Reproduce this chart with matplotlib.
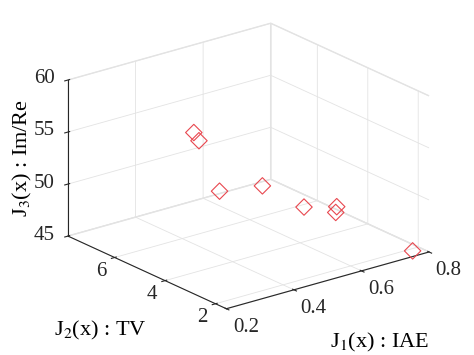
import matplotlib
matplotlib.use("Agg")
import matplotlib.pyplot as plt

plt.rcParams['font.family'] = ['Liberation Serif', 'DejaVu Serif']
plt.rcParams['mathtext.fontset'] = 'stix'
plt.rcParams['grid.color'] = '#e3e3e3'
plt.rcParams['grid.linewidth'] = 0.6

# puntos del frente de Pareto
iae = [0.35, 0.36, 0.40, 0.45, 0.55, 0.62, 0.62, 0.77]
tv = [4.87, 4.80, 4.52, 3.49, 3.18, 2.82, 2.86, 1.82]
imre = [56.9, 56.1, 51.2, 52.4, 49.8, 49.6, 49.0, 45.1]

xticks = [0.2, 0.4, 0.6, 0.8]
yticks = [2, 4, 6]
zticks = [45, 50, 55, 60]

fig = plt.figure(figsize=(4.74, 3.55), dpi=100)
ax = fig.add_axes([0.09, 0.06, 0.85, 0.92], projection='3d', proj_type='ortho')
ax.view_init(elev=21, azim=-128)
ax.set_box_aspect((1, 1, 0.65), zoom=1.19)

ax.scatter(iae, tv, imre, marker='D', s=70, facecolors='none',
           edgecolors='#e8474f', linewidths=0.8, depthshade=False,
           clip_on=False)

ax.set_xlim(0.2, 0.8)
ax.set_ylim(1.57, 7.85)
ax.set_zlim(45, 60)
ax.set_xticks(xticks)
ax.set_yticks(yticks)
ax.set_zticks(zticks)
ax.set_xticklabels(['0.2', '0.4', '0.6', '0.8'])
ax.set_yticklabels(['2', '4', '6'])
ax.set_zticklabels(['45', '50', '55', '60'])
ax.tick_params(labelsize=15, colors='#262626', pad=0)
ax.tick_params(axis='x', pad=-3)

# alinear las etiquetas como en la figura original
for lbl in ax.get_xticklabels():
    lbl.set_va('top')
    lbl.set_ha('left')
for lbl in ax.get_yticklabels() + ax.get_zticklabels():
    lbl.set_va('center')

for eje in [ax.xaxis, ax.yaxis, ax.zaxis]:
    eje.set_pane_color((1, 1, 1, 1))
    eje.pane.set_edgecolor('#e3e3e3')
    eje.line.set_color('#262626')
    eje.line.set_linewidth(0.8)

fig.text(0.047, 0.555, r'J$_3$(x) : Im/Re', rotation=90, fontsize=16,
         ha='center', va='center')
fig.text(0.211, 0.07, r'J$_2$(x) : TV', fontsize=16, ha='center', va='center')
fig.text(0.80, 0.034, r'J$_1$(x) : IAE', fontsize=16, ha='center', va='center')

fig.savefig('out.png', dpi=100)
